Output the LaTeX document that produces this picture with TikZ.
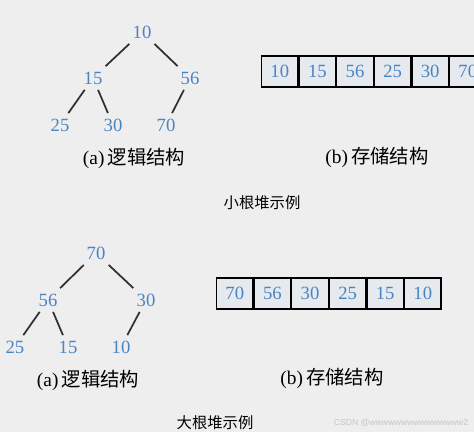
\documentclass[tikz,border=0pt]{standalone}
\usepackage{fontspec}
\setmainfont{Liberation Serif}
\newfontfamily\cjk{Noto Sans CJK SC}
\newfontfamily\wmfont{Liberation Sans}
\usetikzlibrary{arrows,%
                shapes,positioning}
\definecolor{keyblue}{HTML}{4A84C4}
\definecolor{edgegray}{HTML}{303030}
\definecolor{cellfill}{HTML}{E6EAEE}
\definecolor{bggray}{HTML}{EEEEEE}

\begin{document}
\begin{tikzpicture}[x=0.75pt,y=-0.75pt,
  key/.style={text=keyblue,font=\fontsize{14}{16}\selectfont,inner sep=4pt},
  cell/.style={draw=black,line width=1pt,fill=cellfill,minimum width=27.4pt,
               minimum height=23.2pt,outer sep=0pt,text=keyblue,
               font=\fontsize{14}{16}\selectfont},
  link/.style={draw=edgegray,line width=1.3pt},
  caption/.style={font=\fontsize{14.5}{16}\selectfont},
  title/.style={font=\cjk\fontsize{11.5}{13}\selectfont}]
\fill[bggray] (0,0) rectangle (474,432);
\useasboundingbox (0,0) rectangle (474,432);

% small root heap
\node[key] (A) at (142,32) {10};
\node[key] (B) at (93,78) {15};
\node[key] (C) at (190,78) {56};
\node[key] (D) at (60,125) {25};
\node[key] (E) at (113,125) {30};
\node[key] (F) at (166,125) {70};

\draw[link] (A) -- (B);
\draw[link] (A) -- (C);
\draw[link] (B) -- (D);
\draw[link] (B) -- (E);
\draw[link] (C) -- (F);

\node[caption] (capA) at (134,158) {(a)\,\cjk 逻辑结构};

\foreach \v [count=\i] in {10,15,56,25,30,70}
  \node[cell] (S\i) at ({261+37.6*(\i-0.5)},71.5) {\v};

\node[caption] (capB) at (377,157) {(b)\,\cjk 存储结构};
\node[title] (small) at (262,203) {小根堆示例};

% big root heap
\node[key] (G) at (96,253) {70};
\node[key] (H) at (48,300) {56};
\node[key] (I) at (146,300) {30};
\node[key] (J) at (15,347) {25};
\node[key] (K) at (68,347) {15};
\node[key] (L) at (121,347) {10};

\draw[link] (G) -- (H);
\draw[link] (G) -- (I);
\draw[link] (H) -- (J);
\draw[link] (H) -- (K);
\draw[link] (I) -- (L);

\node[caption] (capC) at (88,380) {(a)\,\cjk 逻辑结构};

\foreach \v [count=\i] in {70,56,30,25,15,10}
  \node[cell] (T\i) at ({216+37.6*(\i-0.5)},293.5) {\v};

\node[caption] (capD) at (332,378) {(b)\,\cjk 存储结构};
\node[title] (big) at (215,423) {大根堆示例};

\node[anchor=east,text=gray!45,font=\wmfont\fontsize{6.5}{8}\selectfont] (mark) at (473,423) {CSDN @wwwwwwwwwwwwwww2};
\end{tikzpicture}
\end{document}
